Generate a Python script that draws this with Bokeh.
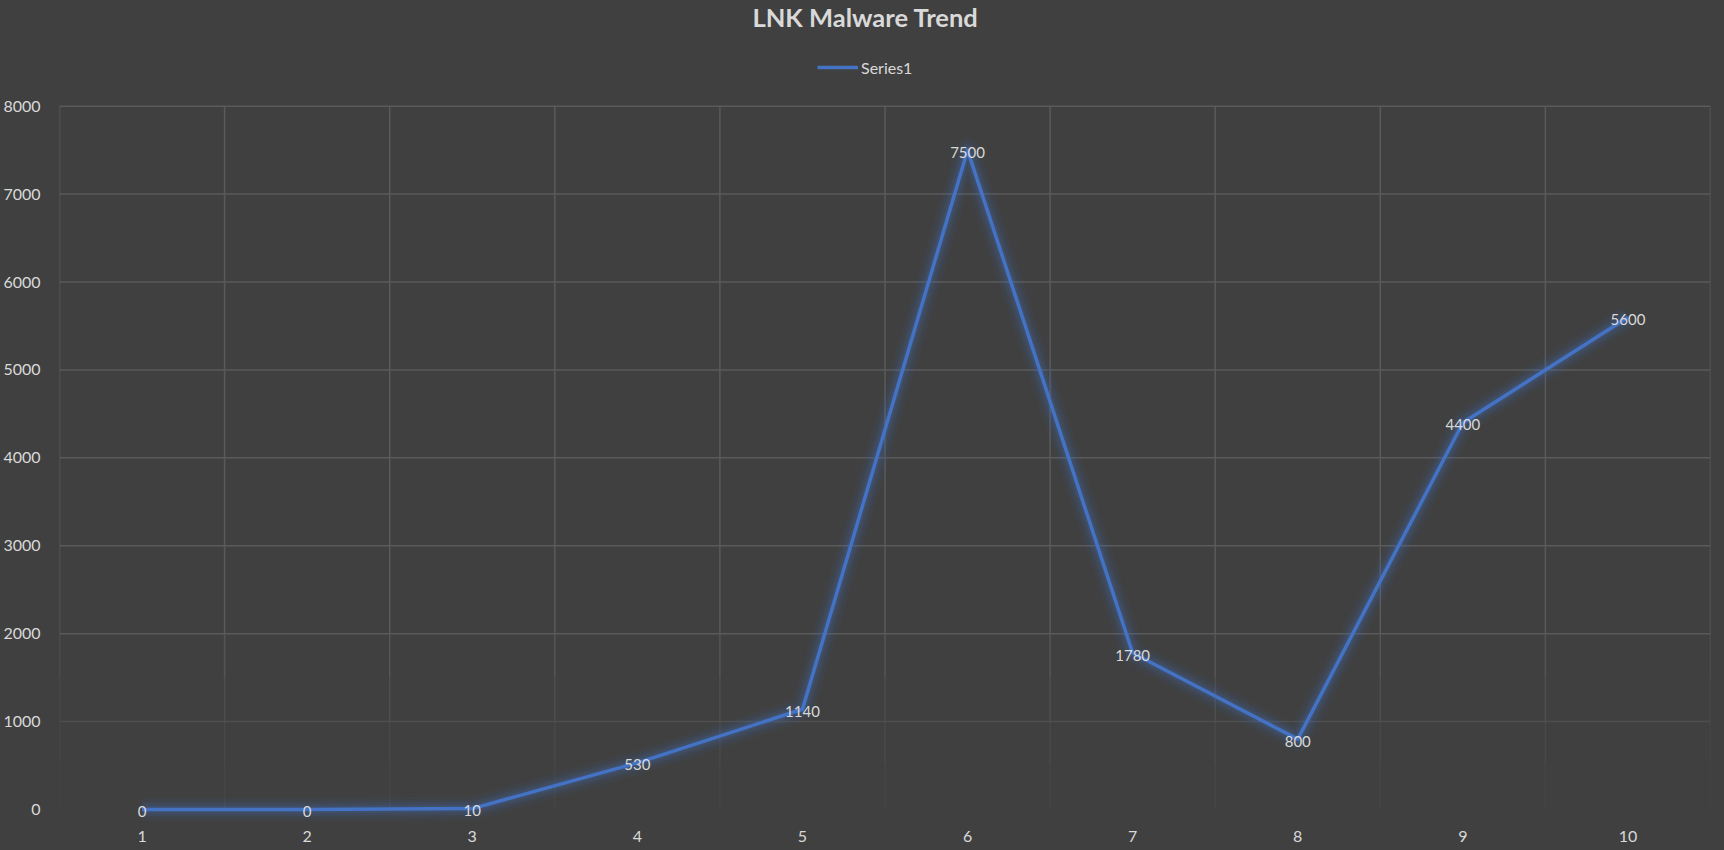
from bokeh.plotting import figure
from bokeh.models import (Range1d, FixedTicker, Legend, LegendItem, ColumnDataSource, LabelSet, Label,
                          GlobalInlineStyleSheet)
from bokeh.core.properties import value
from bokeh.embed import file_html
from bokeh.resources import INLINE

title_text = "LNK Malware Trend"
series_name = "Series1"
categories = [1, 2, 3, 4, 5, 6, 7, 8, 9, 10]
values = [0, 0, 10, 530, 1140, 7500, 1780, 800, 4400, 5600]
y_ticks = [0, 1000, 2000, 3000, 4000, 5000, 6000, 7000, 8000]

BG = "#404040"
GRID = "#5a5a5a"
TXT = "#d9d9d9"
BLUE = "#4472C4"
FONT = "Lato"

# layout (pixels)
W, H = 1716, 842
LEFT = 56
FW = 1651
RIGHT = W - LEFT - FW
BOTTOM = 22
FH = H - BOTTOM
Y0_PX, YTOP_PX = 809, 105.7          # pixel rows of 0 and of the axis top
YMAX = y_ticks[-1]
k = (Y0_PX - YTOP_PX) / YMAX          # px per unit
y_start = -(FH - Y0_PX) / k
y_end = YMAX + YTOP_PX / k
x_lo, x_hi = 0.5, len(categories) + 0.5

def px_to_y(py):
    return (Y0_PX - py) / k

def px_to_x(px):
    return x_lo + (px - LEFT) / FW * (x_hi - x_lo)

p = figure(frame_width=FW, frame_height=FH, output_backend="svg", toolbar_location=None,
           x_range=Range1d(x_lo, x_hi), y_range=Range1d(y_start, y_end),
           background_fill_color=BG, border_fill_color=BG,
           min_border_left=LEFT, min_border_right=RIGHT, min_border_bottom=BOTTOM, min_border_top=0)
p.outline_line_color = None
p.styles = {"background-color": BG}
p.stylesheets = [GlobalInlineStyleSheet(css="html, body { background-color: #404040; }")]

p.xgrid.visible = False
p.ygrid.visible = False

# horizontal gridlines
h_vals = [t for t in y_ticks if t > 0]
h_alpha = [0.55 if t == 1000 else 1.0 for t in h_vals]
p.segment(x0=[x_lo] * len(h_vals), x1=[x_hi] * len(h_vals), y0=h_vals, y1=h_vals,
          line_color=GRID, line_width=1.5, line_alpha=h_alpha)

# vertical gridlines at category boundaries, fading toward the bottom
bounds = [c - 0.5 for c in categories] + [categories[-1] + 0.5]
bands = [(2000, YMAX, 1.0), (1500, 2000, 0.8), (1000, 1500, 0.55), (500, 1000, 0.35), (0, 500, 0.2)]
vx, vy0, vy1, va = [], [], [], []
for b in bounds:
    for lo, hi, a in bands:
        vx.append(b); vy0.append(lo); vy1.append(hi); va.append(a)
p.segment(x0=vx, x1=vx, y0=vy0, y1=vy1, line_color=GRID, line_width=1.5, line_alpha=va)

src = ColumnDataSource(dict(x=categories, y=values, t=[str(v) for v in values]))

# glow
for w, a in [(24, 0.05), (18, 0.07), (13, 0.10), (8, 0.15)]:
    p.line("x", "y", source=src, line_color=BLUE, line_width=w, line_alpha=a, line_join="round")
main = p.line("x", "y", source=src, line_color=BLUE, line_width=3.5, line_join="round")

labels = LabelSet(x="x", y="y", text="t", source=src, text_align="center", text_baseline="middle",
                  text_color=TXT, text_font=value(FONT), text_font_size="15px", y_offset=-2)
p.add_layout(labels)

# title
p.add_layout(Label(x=px_to_x(862), y=px_to_y(16.5),
                   text=title_text, text_align="center", text_baseline="middle",
                   text_color=TXT, text_font=FONT, text_font_size="25.5px", text_font_style="bold"))

# axes
for ax in (p.xaxis[0], p.yaxis[0]):
    ax.axis_line_color = None
    ax.major_tick_line_color = None
    ax.minor_tick_line_color = None
    ax.major_label_text_color = TXT
    ax.major_label_text_font = FONT
    ax.major_label_text_font_size = "16px"
p.xaxis.ticker = FixedTicker(ticks=categories)
p.yaxis.ticker = FixedTicker(ticks=y_ticks)
p.xaxis.major_label_standoff = 4
p.yaxis.major_label_standoff = 13

legend = Legend(items=[LegendItem(label=series_name, renderers=[main])],
                orientation="horizontal", location=(814 - LEFT, FH - 77),
                background_fill_alpha=0, border_line_alpha=0,
                label_text_color=TXT, label_text_font=FONT, label_text_font_size="16px",
                glyph_width=41, glyph_height=20, label_standoff=3, label_height=20,
                padding=0, margin=0, spacing=0)
p.add_layout(legend, "center")

open("out.html", "w").write(file_html(p, INLINE))
